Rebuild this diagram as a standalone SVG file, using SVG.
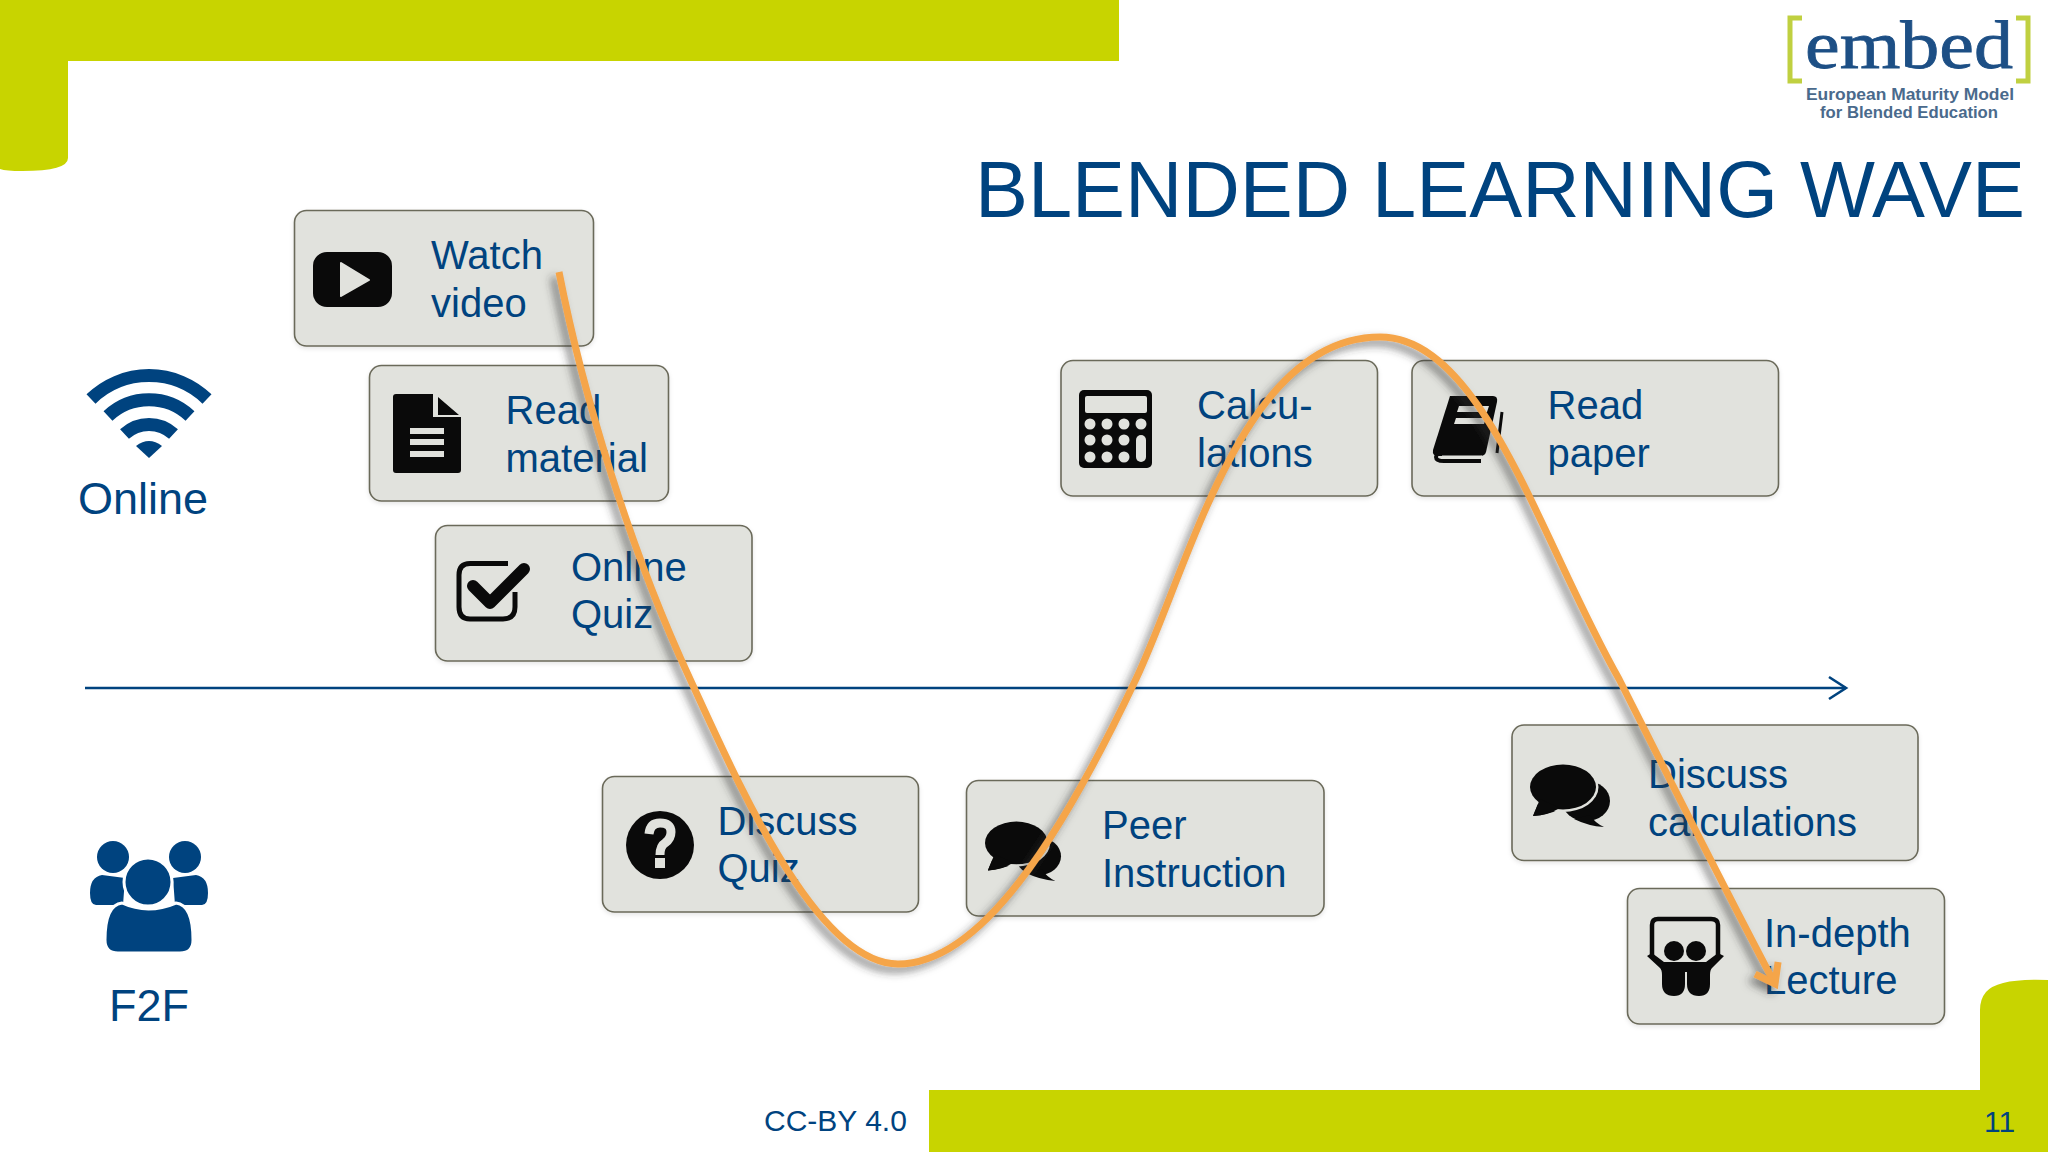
<svg xmlns="http://www.w3.org/2000/svg" xmlns:xlink="http://www.w3.org/1999/xlink" width="2048" height="1152" viewBox="0 0 2048 1152">
<style>
text{font-family:"Liberation Sans",Arial,sans-serif;fill:#00437f}
.t{font-size:40px}
.box{fill:#e1e2dd;stroke:#6b6a5a;stroke-width:1.6;filter:url(#bs)}
.ic{fill:#0a0a0a}
.cut{fill:#e1e2dd}
.blue{fill:#00437f}
.lime{fill:#c8d400}
</style>
<defs>
<filter id="bs" x="-5%" y="-5%" width="110%" height="112%"><feDropShadow dx="0" dy="2" stdDeviation="2" flood-color="#000" flood-opacity="0.1"/></filter>
<filter id="cs" x="-5%" y="-5%" width="110%" height="110%"><feDropShadow dx="-5" dy="5" stdDeviation="4" flood-color="#333" flood-opacity="0.6"/></filter>
<marker id="open" markerUnits="userSpaceOnUse" markerWidth="26" markerHeight="30" refX="20" refY="13" orient="auto" viewBox="0 0 26 30"><path d="M3 2L20 13L3 24" fill="none" stroke="#00437f" stroke-width="2.6"/></marker>
<marker id="wave" markerUnits="userSpaceOnUse" markerWidth="40" markerHeight="40" refX="30" refY="20" orient="auto" viewBox="0 0 40 40"><path d="M12 7L30 20L12 33" fill="none" stroke="#f5a54a" stroke-width="7"/></marker>
<g id="chat">
<ellipse cx="56" cy="36" rx="24" ry="20" class="ic"/>
<path class="ic" d="M60 50Q65 58 74 62Q58 61 44 54Z"/>
<path class="ic" d="M10 34L3 51Q18 50 30 44Z"/>
<ellipse cx="33" cy="22" rx="35.500" ry="25" class="cut"/>
<ellipse cx="33" cy="22" rx="33" ry="22.500" class="ic"/>
<path class="ic" d="M10 34L3 51Q18 50 30 43Z"/>
</g>
</defs>
<rect width="2048" height="1152" fill="#fff"/>

<g id="frame">
<path class="lime" d="M0 0H1119V61H68V158Q68 171 22 171Q6 171 0 169Z"/>
<path class="lime" d="M2048 980Q1998 978 1986 992Q1980 999 1980 1010V1090H929V1152H2048Z"/>
</g>

<g id="logo">
<path d="M1802 18H1790V81H1802M2016 18H2028V81H2016" fill="none" stroke="#c0d040" stroke-width="5"/>
<text x="1805" y="68" font-size="68" textLength="208" lengthAdjust="spacingAndGlyphs" stroke="#1d4f85" stroke-width="0.8" style="font-family:'Liberation Serif',serif;fill:#1d4f85">embed</text>
<text x="1806" y="100" font-size="17" font-weight="700" textLength="208" lengthAdjust="spacingAndGlyphs" style="fill:#4a6a8c">European Maturity Model</text>
<text x="1820" y="118" font-size="17" font-weight="700" textLength="178" lengthAdjust="spacingAndGlyphs" style="fill:#4a6a8c">for Blended Education</text>
</g>

<text id="title" x="975" y="217" font-size="79.400">BLENDED LEARNING WAVE</text>

<g id="online">
<path d="M91 399A83.500 83.500 0 0 1 207 399M108 416A60 60 0 0 1 190 416M124.500 434A36 36 0 0 1 173.500 434" fill="none" stroke="#00437f" stroke-width="13"/>
<path class="blue" d="M149 458L136 446Q149 436 162 446Z"/>
<text x="78" y="514" font-size="45">Online</text>
</g>

<g id="f2f">
<path class="blue" d="M90 893Q90 877 102 875L125 878L123 905H96Q90 905 90 893ZM208 893Q208 877 196 875L173 878L175 905H202Q208 905 208 893Z"/>
<ellipse cx="113" cy="857" rx="16" ry="16" class="blue"/>
<ellipse cx="185" cy="857" rx="16" ry="16" class="blue"/>
<path class="blue" stroke="#fff" stroke-width="3" d="M105 940Q105 905 122 903Q148 915 176 903Q193 905 193 940Q193 953 180 953H118Q105 953 105 940Z"/>
<ellipse cx="148" cy="882" rx="24" ry="24" class="blue" stroke="#fff" stroke-width="3"/>
<text x="109" y="1021" font-size="45">F2F</text>
</g>

<g id="axis">
<path d="M85 688H1846" fill="none" stroke="#00437f" stroke-width="2.600" marker-end="url(#open)"/>
</g>

<g id="watch-video">
<rect class="box" x="294.500" y="210.500" width="299" height="135.500" rx="12"/>
<rect class="ic" x="313" y="252" width="79" height="55" rx="14"/>
<path class="cut" d="M341 263L369 280L341 296Z" stroke="#e1e2dd" stroke-width="2" stroke-linejoin="round"/>
<text class="t" x="431" y="269">Watch</text><text class="t" x="431" y="317">video</text>
</g>

<g id="read-material">
<rect class="box" x="369.500" y="365.500" width="299" height="135.500" rx="12"/>
<path class="ic" d="M396 394H433V417H461V470Q461 473 458 473H396Q393 473 393 470V397Q393 394 396 394ZM438 397L459 415H438Z"/>
<rect class="cut" x="410" y="428" width="34" height="6"/><rect class="cut" x="410" y="439" width="34" height="6"/><rect class="cut" x="410" y="451" width="34" height="6"/>
<text class="t" x="505.500" y="424">Read</text><text class="t" x="505.500" y="472">material</text>
</g>

<g id="online-quiz">
<rect class="box" x="435.500" y="525.500" width="316.500" height="135.500" rx="12"/>
<path d="M508 563.500H470Q459 563.500 459 575V607Q459 619 470 619H503Q515 619 515 607V592" fill="none" stroke="#0a0a0a" stroke-width="5"/>
<path d="M473 586L490 603L524 569" fill="none" stroke="#0a0a0a" stroke-width="12" stroke-linejoin="round" stroke-linecap="round"/>
<text class="t" x="571" y="581">Online</text><text class="t" x="571" y="628">Quiz</text>
</g>

<g id="discuss-quiz">
<rect class="box" x="602.500" y="776.500" width="316" height="135.500" rx="12"/>
<circle class="ic" cx="660" cy="845" r="34"/>
<path d="M649 834Q650 823 660 823Q671 823 671 832Q671 839 665 843Q660 846 660 855" fill="none" stroke="#e1e2dd" stroke-width="9"/>
<rect class="cut" x="655" y="858" width="10" height="10"/>
<text class="t" x="717.500" y="835">Discuss</text><text class="t" x="717.500" y="882">Quiz</text>
</g>

<g id="peer-instruction">
<rect class="box" x="966.500" y="780.500" width="357.500" height="135.500" rx="12"/>
<use href="#chat" transform="translate(985 822) scale(.95)"/>
<text class="t" x="1102" y="839">Peer</text><text class="t" x="1102" y="887">Instruction</text>
</g>

<g id="calculations">
<rect class="box" x="1061" y="360.500" width="316.500" height="135.500" rx="12"/>
<rect class="ic" x="1079" y="390" width="73" height="78" rx="5"/>
<rect class="cut" x="1085" y="396" width="62" height="17" rx="2"/>
<g class="cut">
<circle cx="1090" cy="424" r="5.500"/><circle cx="1107" cy="424" r="5.500"/><circle cx="1124" cy="424" r="5.500"/><circle cx="1141" cy="424" r="5.500"/>
<circle cx="1090" cy="440" r="5.500"/><circle cx="1107" cy="440" r="5.500"/><circle cx="1124" cy="440" r="5.500"/>
<circle cx="1090" cy="457" r="5.500"/><circle cx="1107" cy="457" r="5.500"/><circle cx="1124" cy="457" r="5.500"/>
<rect x="1136" y="435" width="10" height="27" rx="5"/>
</g>
<text class="t" x="1197" y="419">Calcu-</text><text class="t" x="1197" y="467">lations</text>
</g>

<g id="read-paper">
<rect class="box" x="1412" y="360.500" width="366.500" height="135.500" rx="12"/>
<path d="M1502 412L1497 453" fill="none" stroke="#0a0a0a" stroke-width="3"/>
<path class="ic" d="M1450 396H1493Q1498 396 1497 402L1486 452Q1485 456 1480 456H1438Q1432 456 1433 450Z"/>
<path d="M1480 452H1444Q1436 453 1436 457Q1436 461 1444 461H1481" fill="none" stroke="#0a0a0a" stroke-width="4"/>
<path d="M1442 457H1482" stroke="#e1e2dd" stroke-width="3" fill="none"/>
<path class="cut" d="M1459 406H1489L1487 412H1457ZM1456 418H1486L1484 424H1454Z"/>
<text class="t" x="1547.500" y="419">Read</text><text class="t" x="1547.500" y="467">paper</text>
</g>

<g id="discuss-calculations">
<rect class="box" x="1512" y="725" width="406" height="135.500" rx="12"/>
<use href="#chat" transform="translate(1530 765)"/>
<text class="t" x="1648" y="788">Discuss</text><text class="t" x="1648" y="836">calculations</text>
</g>

<g id="in-depth-lecture">
<rect class="box" x="1627.500" y="888.500" width="317" height="135.500" rx="12"/>
<path d="M1652 955V925Q1652 919 1658 919H1711Q1718 919 1718 925V955" fill="none" stroke="#0a0a0a" stroke-width="4.500"/>
<circle class="ic" cx="1674" cy="951" r="10"/><circle class="ic" cx="1696" cy="951" r="10"/>
<path class="ic" d="M1647 956L1652 953L1664 962H1706L1718 953L1724 956L1712 968Q1710 970 1710 975V984Q1710 996 1699 996Q1687 996 1687 984V972H1685V984Q1685 996 1674 996Q1662 996 1662 984V975Q1662 970 1660 968Z"/>
<text class="t" x="1764" y="947">In-depth</text><text class="t" x="1764" y="994">Lecture</text>
</g>

<g id="connectors">
<path d="M559 272C583 395 630 550 690 679C735 776 815 964 898 964C980 964 1060 840 1136 679C1190 565 1242 337 1380 337C1483 337 1540 540 1619 679C1660 760 1720 880 1775 984" fill="none" stroke="#f5a54a" stroke-width="7" filter="url(#cs)" marker-end="url(#wave)"/>
</g>

<g id="footer">
<text x="764" y="1131" font-size="30">CC-BY 4.0</text>
<text x="1984" y="1132" font-size="30">11</text>
</g>
</svg>
